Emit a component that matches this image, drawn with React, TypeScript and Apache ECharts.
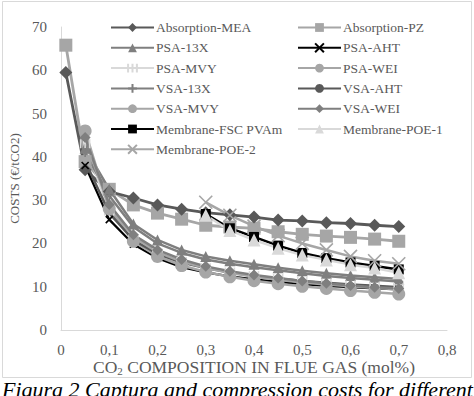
import React, { useEffect, useRef } from "react";
import * as echarts from "echarts";

const X_FULL = [0.01, 0.05, 0.1, 0.15, 0.2, 0.25, 0.3, 0.35, 0.4, 0.45, 0.5, 0.55, 0.6, 0.65, 0.7];
const X_ADS = [0.05, 0.1, 0.15, 0.2, 0.25, 0.3, 0.35, 0.4, 0.45, 0.5, 0.55, 0.6, 0.65, 0.7];
const X_MEM = [0.3, 0.35, 0.4, 0.45, 0.5, 0.55, 0.6, 0.65, 0.7];

const ABS_MEA = [59.5, 37, 32, 30.5, 28.9, 27.9, 27.1, 26.6, 26.1, 25.4, 25.2, 24.8, 24.6, 24.2, 23.9];
const ABS_PZ = [65.8, 38.9, 32.5, 28.9, 27, 25.6, 24.2, 23.8, 23.5, 22.7, 22.1, 21.7, 21.4, 21, 20.5];
const PSA_13X = [42, 32.5, 24.5, 20.8, 18.5, 17, 16, 15.2, 14.4, 13.7, 13.1, 12.6, 12.2, 11.8];
const PSA_AHT = [38, 25.5, 19.8, 16.6, 14.5, 13.3, 12.4, 11.7, 11.1, 10.6, 10.2, 9.9, 9.6, 9.4];
const PSA_MVY = [43, 27.5, 21, 17.8, 15.8, 14.4, 13.4, 12.6, 11.9, 11.3, 10.8, 10.4, 10.1, 9.8];
const PSA_WEI = [46, 28, 20.5, 17, 14.9, 13.4, 12.3, 11.4, 10.7, 10.1, 9.6, 9.1, 8.7, 8.3];
const VSA_13X = [41, 31, 23.8, 20, 17.8, 16.3, 15.3, 14.5, 13.8, 13.1, 12.5, 12, 11.6, 11.2];
const VSA_AHT = [39, 27, 20.8, 17.6, 15.6, 14.3, 13.3, 12.5, 11.9, 11.3, 10.9, 10.5, 10.2, 9.9];
const VSA_MVY = [44, 28.5, 21.5, 18, 15.8, 14.3, 13.2, 12.3, 11.6, 11, 10.5, 10.1, 9.7, 9.4];
const VSA_WEI = [44.5, 29, 22, 18.5, 16.3, 14.7, 13.6, 12.7, 12, 11.3, 10.8, 10.3, 9.9, 9.6];
const MEM_FSC = [26.8, 23.5, 21.5, 19.5, 17.8, 16.6, 15.6, 14.8, 14];
const MEM_POE1 = [26.5, 23, 20.8, 18.9, 17.3, 16.2, 15.1, 14.3, 13.2];
const MEM_POE2 = [29.5, 26.5, 24, 21.8, 20, 18.5, 17, 16, 15.3];

const X_TICKS = ["0", "0,1", "0,2", "0,3", "0,4", "0,5", "0,6", "0,7", "0,8"];

const LEFT_LEGEND = ["Absorption-MEA", "PSA-13X", "PSA-MVY", "VSA-13X", "VSA-MVY", "Membrane-FSC PVAm", "Membrane-POE-2"];
const RIGHT_LEGEND = ["Absorption-PZ", "PSA-AHT", "PSA-WEI", "VSA-AHT", "VSA-WEI", "Membrane-POE-1"];

const CROSS = "path://M0,0L10,10M10,0L0,10";
const PLUS = "path://M5,0L5,10M0,5L10,5";
const BARS = "path://M2,0L2,10M5,0L5,10M8,0L8,10";

const zip = (xs: number[], ys: number[]) => xs.map((x, i) => [x, ys[i]]);

const FONT = "'Liberation Serif', 'Times New Roman', serif";

export default function App() {
  const ref = useRef<HTMLDivElement>(null);
  useEffect(() => {
    if (!ref.current) return;
    const chart = echarts.init(ref.current, undefined, { renderer: "svg" });

    const mk = (
      name: string,
      xs: number[],
      ys: number[],
      color: string,
      symbol: string,
      size: number,
      width = 2.5,
      stroke = false
    ) => ({
      name,
      type: "line",
      data: zip(xs, ys),
      symbol,
      symbolSize: size,
      showSymbol: symbol !== "none",
      lineStyle: { color, width },
      itemStyle: stroke
        ? { color: "rgba(0,0,0,0)", borderColor: color, borderWidth: 1.6 }
        : { color, borderColor: color, borderWidth: 0 },
      emphasis: { disabled: true },
    });

    const series = [
      mk("Absorption-PZ", X_FULL, ABS_PZ, "#a6a6a6", "rect", 13, 2.8),
      mk("Absorption-MEA", X_FULL, ABS_MEA, "#595959", "diamond", 13, 2.8),
      mk("PSA-13X", X_ADS, PSA_13X, "#7f7f7f", "triangle", 11),
      mk("PSA-AHT", X_ADS, PSA_AHT, "#000000", CROSS, 7, 2.2, true),
      mk("PSA-MVY", X_ADS, PSA_MVY, "#d9d9d9", BARS, 9, 2.5, true),
      mk("PSA-WEI", X_ADS, PSA_WEI, "#a6a6a6", "circle", 13),
      mk("VSA-13X", X_ADS, VSA_13X, "#7f7f7f", PLUS, 9, 2.5, true),
      mk("VSA-AHT", X_ADS, VSA_AHT, "#595959", "none", 0),
      mk("VSA-MVY", X_ADS, VSA_MVY, "#a6a6a6", "none", 0),
      mk("VSA-WEI", X_ADS, VSA_WEI, "#7f7f7f", "diamond", 11),
      mk("Membrane-FSC PVAm", X_MEM, MEM_FSC, "#000000", "rect", 10),
      mk("Membrane-POE-1", X_MEM, MEM_POE1, "#d9d9d9", "triangle", 13),
      mk("Membrane-POE-2", X_MEM, MEM_POE2, "#a6a6a6", CROSS, 13, 2.5, true),
    ];

    const legendBase = {
      orient: "vertical",
      top: 20,
      padding: 0,
      itemWidth: 43,
      itemHeight: 11,
      itemGap: 5.3,
      textStyle: { fontFamily: FONT, fontSize: 13.5, color: "#595959", padding: [0, 0, 0, -3], lineHeight: 15 },
      selectedMode: false,
    };

    chart.setOption({
      animation: false,
      backgroundColor: "#ffffff",
      textStyle: { fontFamily: FONT },
      grid: { left: 61, right: 27, top: 27, bottom: 66, containLabel: false },
      legend: [
        { ...legendBase, left: 110, data: LEFT_LEGEND },
        { ...legendBase, left: 297, data: RIGHT_LEGEND },
      ],
      xAxis: {
        type: "value",
        min: 0,
        max: 0.8,
        interval: 0.1,
        name: "{a|CO}{s|2}{a| COMPOSITION IN FLUE GAS (mol%)}",
        nameLocation: "middle",
        nameGap: 28,
        nameMoveOverlap: false,
        nameTextStyle: {
          rich: {
            a: { fontFamily: FONT, fontSize: 17.5, color: "#595959", verticalAlign: "bottom", lineHeight: 18 },
            s: { fontFamily: FONT, fontSize: 11, color: "#595959", verticalAlign: "bottom", lineHeight: 11 },
          },
        },
        axisLine: { show: true, lineStyle: { color: "#d9d9d9", width: 1 } },
        axisTick: { show: false },
        splitLine: { show: false },
        axisLabel: {
          fontFamily: FONT,
          fontSize: 15,
          color: "#595959",
          margin: 12,
          formatter: (v: number) => X_TICKS[Math.round(v * 10)],
        },
      },
      yAxis: {
        type: "value",
        min: 0,
        max: 70,
        interval: 10,
        name: "COSTS (€/tCO2)",
        nameLocation: "middle",
        nameGap: 40,
        nameMoveOverlap: false,
        nameTextStyle: { fontFamily: FONT, fontSize: 13, color: "#595959" },
        axisLine: { show: true, lineStyle: { color: "#d9d9d9", width: 1 } },
        axisTick: { show: false },
        splitLine: { show: false },
        axisLabel: { fontFamily: FONT, fontSize: 15, color: "#595959", margin: 14 },
      },
      graphic: [
        {
          type: "rect",
          shape: { x: 2.5, y: 1.5, width: 469, height: 376 },
          style: { fill: "none", stroke: "#d9d9d9", lineWidth: 1 },
          silent: true,
          z: -1,
        },
        {
          type: "text",
          left: 2,
          top: 378,
          style: {
            text: "Figura 2 Captura and compression costs for different",
            fontFamily: FONT,
            fontStyle: "italic",
            fontSize: 22,
            fill: "#000000",
          },
          silent: true,
        },
      ],
      series,
    });

    return () => chart.dispose();
  }, []);

  return (
    <div
      ref={ref}
      style={{ position: "fixed", left: 0, top: 0, width: 474, height: 396, background: "#fff" }}
    />
  );
}
